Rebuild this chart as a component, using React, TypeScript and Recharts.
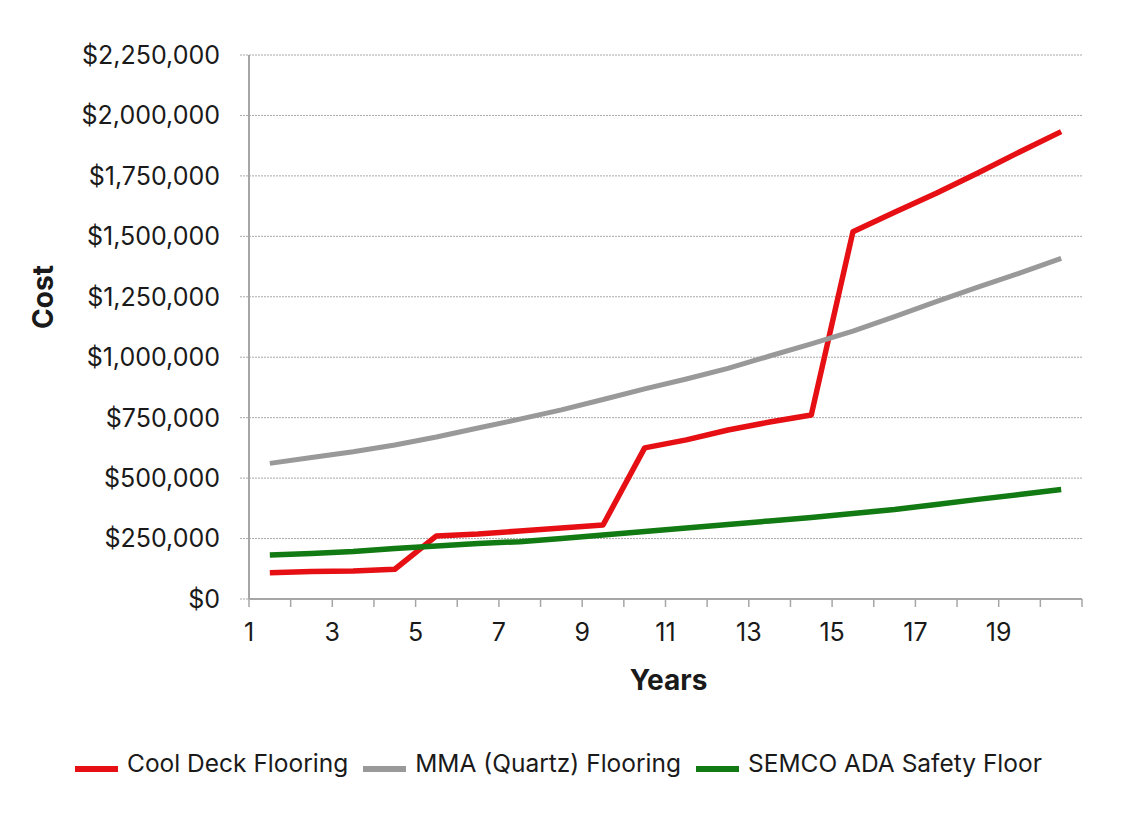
import React from 'react';
import { LineChart, Line, XAxis, YAxis, CartesianGrid, Legend } from 'recharts';

const FONT = 'Inter, "Open Sans", sans-serif';

const years = [1, 2, 3, 4, 5, 6, 7, 8, 9, 10, 11, 12, 13, 14, 15, 16, 17, 18, 19, 20];

const coolDeck = [
  109000, 114000, 116000, 123000, 261000, 269000, 281000, 294000, 306000, 625000,
  658000, 699000, 732000, 761000, 1519000, 1600000, 1678000, 1762000, 1849000, 1933000,
];
const mma = [
  561000, 585000, 609000, 637000, 670000, 707000, 744000, 782000, 825000, 869000,
  910000, 954000, 1005000, 1055000, 1108000, 1168000, 1230000, 1290000, 1348000, 1409000,
];
const semco = [
  182000, 188000, 196000, 209000, 219000, 230000, 237000, 250000, 265000, 279000,
  294000, 308000, 323000, 337000, 354000, 370000, 391000, 412000, 432000, 453000,
];

const yTicks = [0, 250000, 500000, 750000, 1000000, 1250000, 1500000, 1750000, 2000000, 2250000];
const xTicks = [1, 2, 3, 4, 5, 6, 7, 8, 9, 10, 11, 12, 13, 14, 15, 16, 17, 18, 19, 20, 21];
const xLabels = [1, 3, 5, 7, 9, 11, 13, 15, 17, 19];

const series = [
  { key: 'coolDeck', name: 'Cool Deck Flooring', color: '#e60f14', width: 5.5 },
  { key: 'mma', name: 'MMA (Quartz) Flooring', color: '#999999', width: 5 },
  { key: 'semco', name: 'SEMCO ADA Safety Floor', color: '#127a12', width: 5.5 },
];

// each year's point sits in the middle of its interval on the axis
const data = years.map((year, i) => ({
  x: year + 0.5,
  coolDeck: coolDeck[i],
  mma: mma[i],
  semco: semco[i],
}));

const money = (v: number) => '$' + v.toLocaleString('en-US');

const renderLegend = () => (
  <div
    style={{
      display: 'flex',
      alignItems: 'center',
      height: 40,
      paddingLeft: 75,
      fontFamily: FONT,
      fontSize: 24.5,
      color: '#1a1a1a',
    }}
  >
    {series.map((s) => (
      <div key={s.key} style={{ display: 'flex', alignItems: 'center', marginRight: 15 }}>
        <span
          style={{ display: 'inline-block', width: 43, height: 6, background: s.color, marginRight: 9, marginTop: 12 }}
        />
        <span>{s.name}</span>
      </div>
    ))}
  </div>
);

const CostLabel = (props: any) => {
  const { viewBox } = props;
  const cx = viewBox.x + 43;
  const cy = viewBox.y + viewBox.height / 2 - 30;
  return (
    <text
      x={cx}
      y={cy}
      transform={`rotate(-90, ${cx}, ${cy})`}
      textAnchor="middle"
      dominantBaseline="central"
      fontFamily={FONT}
      fontWeight="bold"
      fontSize={28}
      fill="#1a1a1a"
    >
      Cost
    </text>
  );
};

const YearsLabel = (props: any) => {
  const { viewBox } = props;
  return (
    <text
      x={viewBox.x + viewBox.width / 2 + 3}
      y={viewBox.y + 91}
      textAnchor="middle"
      fontFamily={FONT}
      fontWeight="bold"
      fontSize={28}
      fill="#1a1a1a"
    >
      Years
    </text>
  );
};

export default function App() {
  return (
    <div style={{ position: 'absolute', left: 0, top: 0, width: 1140, height: 815, background: '#fff' }}>
      <LineChart width={1140} height={815} data={data} margin={{ top: 55, right: 58, bottom: 32, left: 0 }}>
        <CartesianGrid vertical={false} stroke="#a8a8a8" strokeDasharray="2 1" />
        <XAxis
          dataKey="x"
          type="number"
          domain={[1, 21]}
          ticks={xTicks}
          interval={0}
          height={144}
          tickFormatter={(v: number) => (xLabels.includes(v) ? String(v) : '')}
          axisLine={{ stroke: '#a6a6a6', strokeWidth: 2 }}
          tickLine={{ stroke: '#a6a6a6', strokeWidth: 1.5 }}
          tickSize={8}
          tickMargin={16}
          tick={{ fill: '#1a1a1a', fontSize: 25, fontFamily: FONT }}
          label={YearsLabel}
        />
        <YAxis
          type="number"
          domain={[0, 2250000]}
          ticks={yTicks}
          interval={0}
          width={249}
          tickFormatter={money}
          axisLine={{ stroke: '#a6a6a6', strokeWidth: 2 }}
          tickLine={{ stroke: '#a8a8a8', strokeDasharray: '2 1' }}
          tickSize={9}
          tickMargin={20}
          tick={{ fill: '#1a1a1a', fontSize: 25, fontFamily: FONT }}
          label={CostLabel}
        />
        <Legend verticalAlign="bottom" content={renderLegend} wrapperStyle={{ left: 0, width: 1140 }} />
        {series.map((s) => (
          <Line
            key={s.key}
            type="linear"
            dataKey={s.key}
            name={s.name}
            stroke={s.color}
            strokeWidth={s.width}
            strokeLinejoin="round"
            dot={false}
            activeDot={false}
            isAnimationActive={false}
          />
        ))}
      </LineChart>
    </div>
  );
}
